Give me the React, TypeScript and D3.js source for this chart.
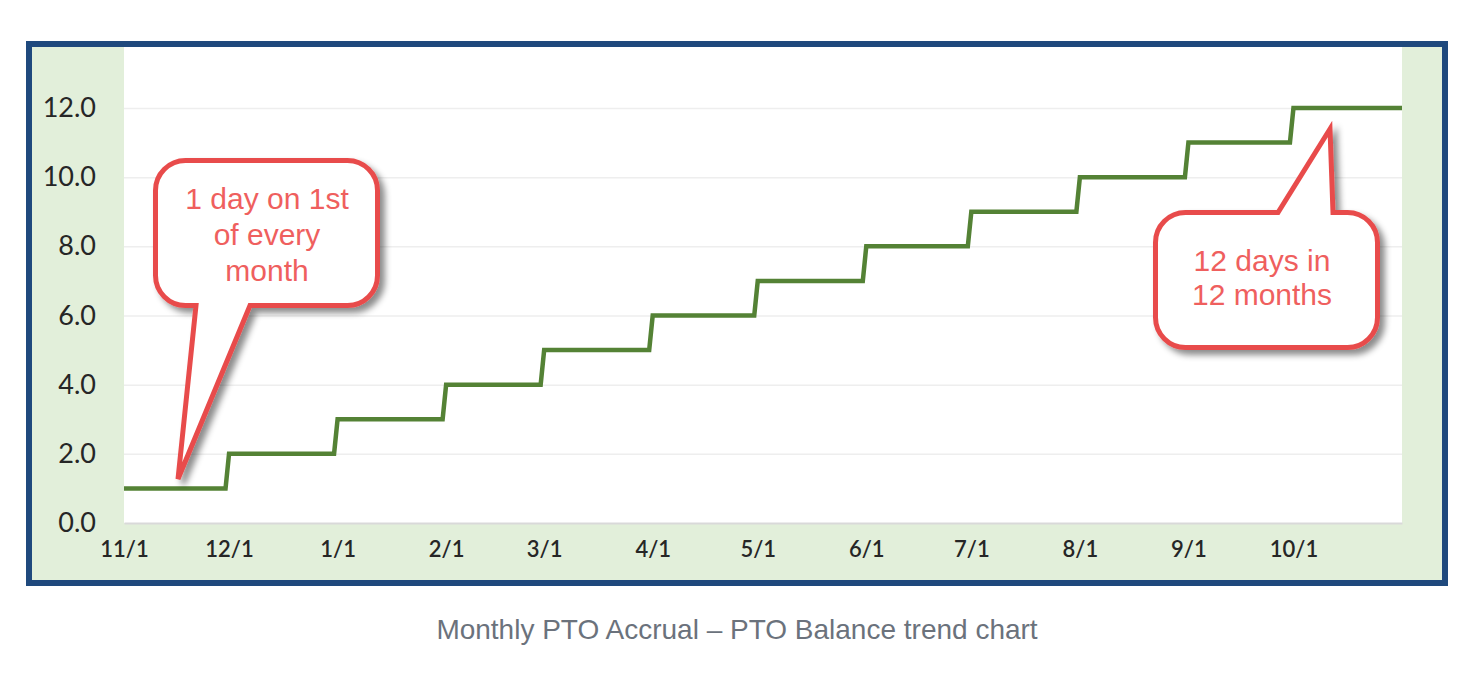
import React, {useEffect, useRef} from 'react';
import * as d3 from 'd3';

// month start dates and the PTO balance reached on each
const monthStarts = ['2022-11-01', '2022-12-01', '2023-01-01', '2023-02-01', '2023-03-01', '2023-04-01',
    '2023-05-01', '2023-06-01', '2023-07-01', '2023-08-01', '2023-09-01', '2023-10-01'];
const balances = [1, 2, 3, 4, 5, 6, 7, 8, 9, 10, 11, 12];
const periodEnd = '2023-11-01';
const yTicks = [0, 2, 4, 6, 8, 10, 12];

const callout1Lines = ['1 day on 1st', 'of every', 'month'];
const callout2Lines = ['12 days in', '12 months'];
const caption = 'Monthly PTO Accrual \u2013 PTO Balance trend chart';

const parse = d3.utcParse('%Y-%m-%d');

const App = () => {
    const svgRef = useRef<SVGSVGElement | null>(null);
    const width = 1478;
    const height = 676;

    useEffect(() => {
        const svg = d3.select(svgRef.current);
        svg.selectAll('*').remove();

        const plot = {left: 124, right: 1402, top: 47, bottom: 523};

        const defs = svg.append('defs');
        const f = defs.append('filter').attr('id', 'shadow')
            .attr('x', '-20%').attr('y', '-20%').attr('width', '150%').attr('height', '150%');
        f.append('feDropShadow').attr('dx', 5).attr('dy', 5).attr('stdDeviation', 3)
            .attr('flood-color', '#000').attr('flood-opacity', 0.45);

        // frame
        svg.append('rect')
            .attr('x', 29).attr('y', 44).attr('width', 1416).attr('height', 539)
            .attr('fill', '#e2efda').attr('stroke', '#1f497d').attr('stroke-width', 6);

        svg.append('rect')
            .attr('x', plot.left).attr('y', plot.top)
            .attr('width', plot.right - plot.left).attr('height', plot.bottom - plot.top)
            .attr('fill', '#ffffff');

        const starts = monthStarts.map(d => parse(d) as Date);
        const end = parse(periodEnd) as Date;

        const x = d3.scaleUtc().domain([starts[0], end]).range([plot.left, plot.right]);
        const y = d3.scaleLinear().domain([0, 12]).range([plot.bottom, 108]);

        // gridlines
        const grid = svg.append('g')
            .attr('transform', `translate(${plot.left},0)`)
            .call(d3.axisLeft(y).tickValues(yTicks.slice(1)).tickSize(-(plot.right - plot.left)).tickFormat(() => ''));
        grid.select('.domain').remove();
        grid.selectAll('line').attr('stroke', '#eeeeee').attr('stroke-width', 1.5);

        // y axis labels
        const yAxis = svg.append('g')
            .attr('transform', `translate(${plot.left},0)`)
            .call(d3.axisLeft(y).tickValues(yTicks).tickSize(0).tickPadding(28).tickFormat(d3.format('.1f')));
        yAxis.select('.domain').remove();
        yAxis.selectAll('text')
            .attr('font-family', 'Lato, "Open Sans", sans-serif')
            .attr('font-size', 27)
            .attr('fill', '#262626');

        // x axis
        const xAxis = svg.append('g')
            .attr('transform', `translate(0,${plot.bottom})`)
            .call(d3.axisBottom(x).tickValues(starts).tickSize(0).tickPadding(18)
                .tickFormat(d => d3.utcFormat('%-m/%-d')(d as Date)));
        xAxis.select('.domain').attr('stroke', '#d9d9d9').attr('stroke-width', 2);
        xAxis.selectAll('text')
            .attr('font-family', 'Lato, "Open Sans", sans-serif')
            .attr('font-size', 22)
            .attr('font-weight', 600)
            .attr('fill', '#262626');

        // step line: balance holds through each month, rises on the 1st
        const pts: [Date, number][] = [];
        starts.forEach((s, i) => {
            const next = i + 1 < starts.length ? starts[i + 1] : end;
            pts.push([s, balances[i]]);
            pts.push([d3.utcDay.offset(next, i + 1 < starts.length ? -1 : 0), balances[i]]);
        });
        const line = d3.line<[Date, number]>().x(d => x(d[0])).y(d => y(d[1]));
        svg.append('path')
            .attr('d', line(pts))
            .attr('fill', 'none')
            .attr('stroke', '#548235')
            .attr('stroke-width', 4.5)
            .attr('stroke-linejoin', 'miter');

        // callouts
        const r = 30;
        const bottomTail = (x0: number, y0: number, x1: number, y1: number, xa: number, xb: number, tx: number, ty: number) =>
            `M${x0 + r},${y0}H${x1 - r}A${r},${r} 0 0 1 ${x1},${y0 + r}V${y1 - r}A${r},${r} 0 0 1 ${x1 - r},${y1}` +
            `H${xb}L${tx},${ty}L${xa},${y1}H${x0 + r}A${r},${r} 0 0 1 ${x0},${y1 - r}V${y0 + r}A${r},${r} 0 0 1 ${x0 + r},${y0}Z`;
        const topTail = (x0: number, y0: number, x1: number, y1: number, xa: number, xb: number, tx: number, ty: number) =>
            `M${x0 + r},${y0}H${xa}L${tx},${ty}L${xb},${y0}H${x1 - r}A${r},${r} 0 0 1 ${x1},${y0 + r}V${y1 - r}` +
            `A${r},${r} 0 0 1 ${x1 - r},${y1}H${x0 + r}A${r},${r} 0 0 1 ${x0},${y1 - r}V${y0 + r}A${r},${r} 0 0 1 ${x0 + r},${y0}Z`;

        const calloutStyle = (p: d3.Selection<SVGPathElement, unknown, null, undefined>) => p
            .attr('fill', '#ffffff')
            .attr('stroke', '#e84c4b')
            .attr('stroke-width', 5)
            .attr('stroke-linejoin', 'miter')
            .attr('filter', 'url(#shadow)');

        svg.append('path').attr('d', bottomTail(155.5, 160.5, 377.5, 305.5, 196, 250, 178, 479)).call(calloutStyle);
        svg.append('path').attr('d', topTail(1155.5, 212.5, 1377.5, 347.5, 1278, 1333, 1330, 129)).call(calloutStyle);

        const addLines = (lines: string[], cx: number, y0: number, dy: number) => {
            svg.append('g').selectAll('text').data(lines).join('text')
                .attr('x', cx).attr('y', (_, i) => y0 + i * dy)
                .attr('text-anchor', 'middle')
                .attr('font-family', '"Liberation Sans", Arial, sans-serif')
                .attr('font-size', 30)
                .attr('fill', '#ef5f5e')
                .text(d => d);
        };
        addLines(callout1Lines, 267, 209, 36);
        addLines(callout2Lines, 1262, 271, 34);

        svg.append('text')
            .attr('x', 737).attr('y', 639)
            .attr('text-anchor', 'middle')
            .attr('font-family', '"Liberation Sans", Arial, sans-serif')
            .attr('font-size', 28)
            .attr('fill', '#6b727c')
            .text(caption);
    }, []);

    return (
        <div style={{position: 'absolute', left: 0, top: 0}}>
            <svg ref={svgRef} width={width} height={height} style={{display: 'block', background: '#fff'}}></svg>
        </div>
    );
};

export default App;
